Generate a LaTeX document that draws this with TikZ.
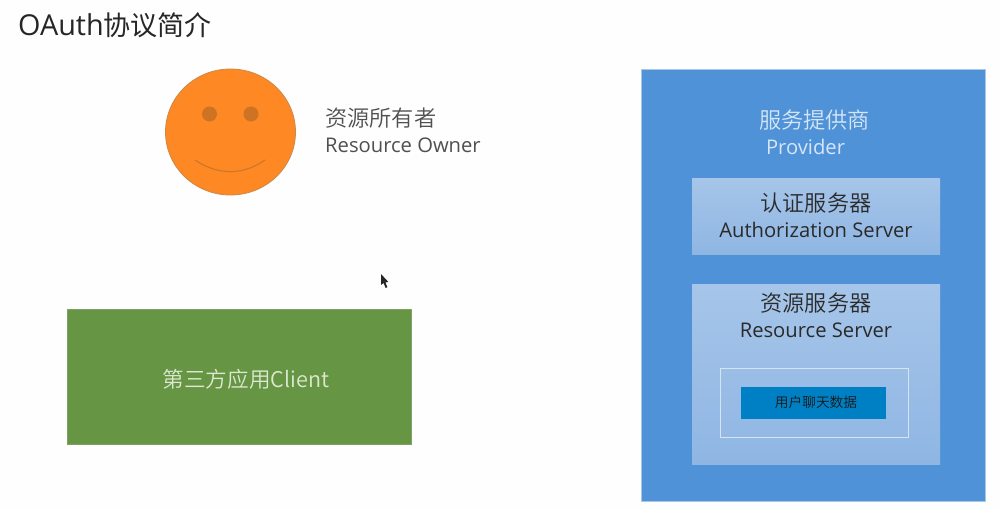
\documentclass[tikz,border=0pt]{standalone}
\usepackage{fontspec}
\usetikzlibrary{shapes.geometric}
\setmainfont{Open Sans}
\newfontfamily\cjk{Noto Sans CJK SC}[UprightFont=* DemiLight]
\newfontfamily\cjktitle{Noto Sans CJK SC}
\newfontfamily\entitle{Open Sans}
\definecolor{provblue}{HTML}{4F92D8}
\definecolor{provedge}{HTML}{A9C8E8}
\definecolor{serverTop}{HTML}{A6C5E9}
\definecolor{serverBot}{HTML}{8FB6E3}
\definecolor{faceorange}{HTML}{FD8824}
\definecolor{faceedge}{HTML}{C98A4A}
\definecolor{eyeorange}{HTML}{CD7424}
\definecolor{smileedge}{HTML}{C9762C}
\definecolor{clientgreen}{HTML}{669543}
\definecolor{clientedge}{HTML}{7FA066}
\definecolor{datablue}{HTML}{0080C4}
\definecolor{inkdark}{HTML}{2A2A2A}
\definecolor{inkgrey}{HTML}{505050}
\definecolor{inkpale}{HTML}{D6E6F6}
\definecolor{inkgreenpale}{HTML}{DCE8D2}
\definecolor{frameedge}{HTML}{D5E3F3}
\tikzset{
  x=1pt,y=-1pt,
  serverbox/.style={inner sep=0pt,top color=serverTop,bottom color=serverBot},
  label25/.style={inner sep=0pt,font=\fontsize{20.2}{24}\selectfont},
  labelcn/.style={inner sep=0pt,font=\cjk\fontsize{22.2}{26}\selectfont},
}
\newcommand{\pxrect}[6]{\path[#6] (#2,#3) rectangle (#4,#5) node[pos=.5,inner sep=0pt] (#1) {};}
\begin{document}
\begin{tikzpicture}
\useasboundingbox (0,0) rectangle (1000,509);
\fill[white!99.5!black] (0,0) rectangle (1000,509);
% title
\node[anchor=west,inner sep=0pt,text=black!85] (title) at (18,25) {\entitle\fontsize{28.8}{32}\selectfont OAuth{\cjktitle\fontsize{27}{32}\selectfont 协议简介}};
% face
\node[ellipse,minimum width=130pt,minimum height=126pt,inner sep=0pt,fill=faceorange,draw=faceedge,line width=.8pt] (face) at (230.5,132) {};
\node[circle,minimum size=15pt,inner sep=0pt,fill=eyeorange] (eyeL) at (209.5,114) {};
\node[circle,minimum size=15pt,inner sep=0pt,fill=eyeorange] (eyeR) at (251,114) {};
\draw[smileedge,line width=1pt] (195,160) .. controls (218,175.5) and (243,175.5) .. (265,160);
\node[labelcn,text=inkgrey,anchor=west] (ownercn) at (325,118) {资源所有者};
\node[label25,text=inkgrey,anchor=west] (owneren) at (325,145) {Resource Owner};
% cursor
\fill[black!85] (381,274) -- (381,285) -- (383.6,283) -- (385.6,288) -- (387.4,287.2) -- (385.4,282.4) -- (388.4,282) -- cycle;
% client
\pxrect{client}{67}{309}{411}{444}{fill=clientgreen,draw=clientedge,line width=.6pt}
\node[inner sep=0pt,text=inkgreenpale,font=\cjk\fontsize{21.6}{25}\selectfont] (clienttxt) at (246,379) {第三方应用Client};
% provider
\pxrect{provider}{641}{69}{985}{501}{fill=provblue,draw=provedge,line width=.7pt}
\node[labelcn,text=inkpale] (provcn) at (814.5,120) {服务提供商};
\node[label25,text=inkpale] (proven) at (805.5,147) {Provider};
% auth
\pxrect{auth}{692}{178}{940}{254}{serverbox}
\node[labelcn,text=inkdark] (authcn) at (816,203) {认证服务器};
\node[label25,text=inkdark] (authen) at (816,230) {Authorization Server};
% resource
\pxrect{res}{692}{284}{940}{464}{serverbox}
\node[labelcn,text=inkdark] (rescn) at (816,303) {资源服务器};
\node[label25,text=inkdark] (resen) at (816,330) {Resource Server};
% inner frame and data
\pxrect{frame}{720}{368}{908}{437}{draw=frameedge,line width=.9pt}
\pxrect{data}{741}{387}{886}{419}{fill=datablue}
\node[inner sep=0pt,text=black!90,font=\cjk\fontsize{13.7}{16}\selectfont] (datatxt) at (816,402) {用户聊天数据};
\end{tikzpicture}
\end{document}
